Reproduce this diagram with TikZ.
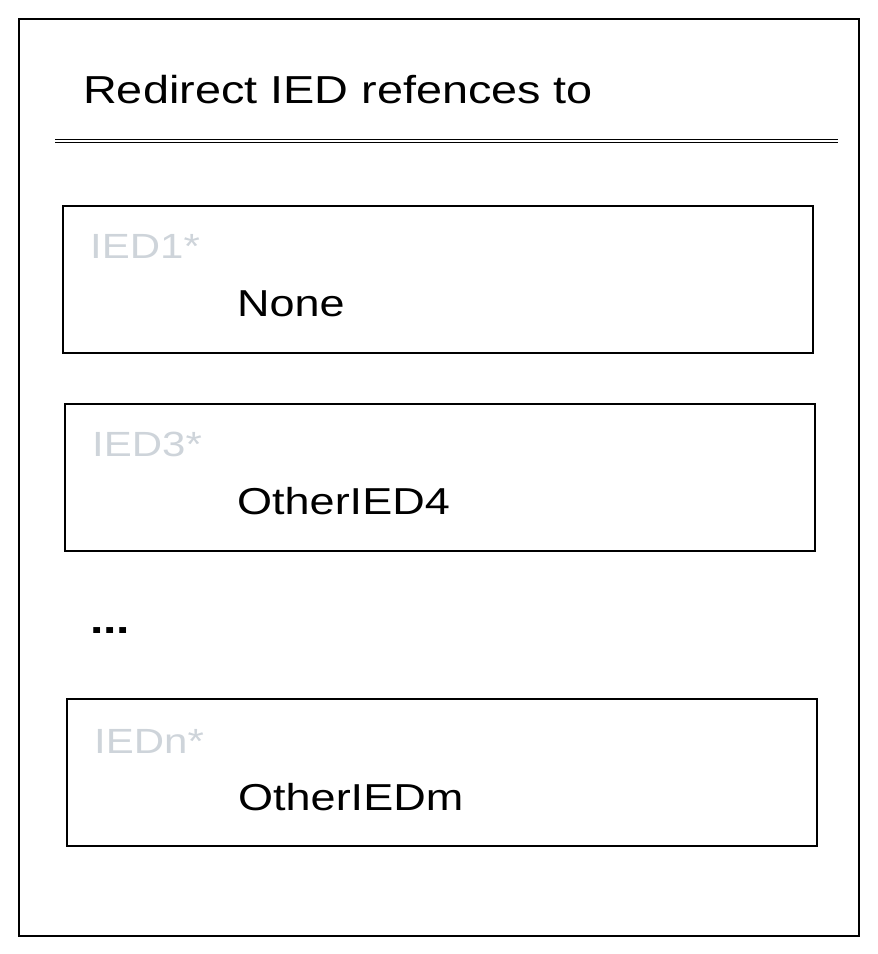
\documentclass[tikz,border=0pt]{standalone}
\usepackage{fontspec}
\setmainfont[FakeStretch=1.2]{Liberation Sans}
\usetikzlibrary{positioning}
\usepackage{xcolor}
\definecolor{hintgray}{HTML}{CED4DA}

\begin{document}
\begin{tikzpicture}[x=1pt, y=-1pt]
    \tikzstyle{entry} = [rectangle, draw, line width=1.8pt, anchor=north west, minimum width=750pt, minimum height=147pt, inner sep=0pt]
    \tikzstyle{hint} = [anchor=base west, inner sep=0pt, text=hintgray, font=\fontsize{35}{40}\selectfont]
    \tikzstyle{value} = [anchor=base west, inner sep=0pt, font=\fontsize{37.5}{42}\selectfont]

    \useasboundingbox (0,0) rectangle (878,954);

    % Rahmen und Titel
    \node[rectangle, draw, line width=2pt, anchor=north west, minimum width=840pt, minimum height=917pt, inner sep=0pt] (frame) at (18,18) {};
    \node[anchor=base west, inner sep=0pt, font=\fontsize{39}{46}\selectfont] (title) at (83,103) {Redirect IED refences to};
    \coordinate (ruleL) at (55,141);
    \coordinate (ruleR) at (838,141);
    \draw[line width=1.1pt, double, double distance=2.2pt] (ruleL) -- (ruleR);

    % Eintraege
    \node[entry] (box1) at (62,205) {};
    \node[hint] (key1) at (90,258) {IED1*};
    \node[value] (val1) at (237,316) {None};

    \node[entry] (box2) at (64,403) {};
    \node[hint] (key2) at (92,456) {IED3*};
    \node[value] (val2) at (237,514) {OtherIED4};

    \node[anchor=base west, inner sep=0pt, font=\fontsize{40}{46}\bfseries] (dots) at (90,633) {...};

    \node[entry] (box3) at (66,698) {};
    \node[hint] (key3) at (94,753) {IEDn*};
    \node[value] (val3) at (238,810) {OtherIEDm};
\end{tikzpicture}
\end{document}
